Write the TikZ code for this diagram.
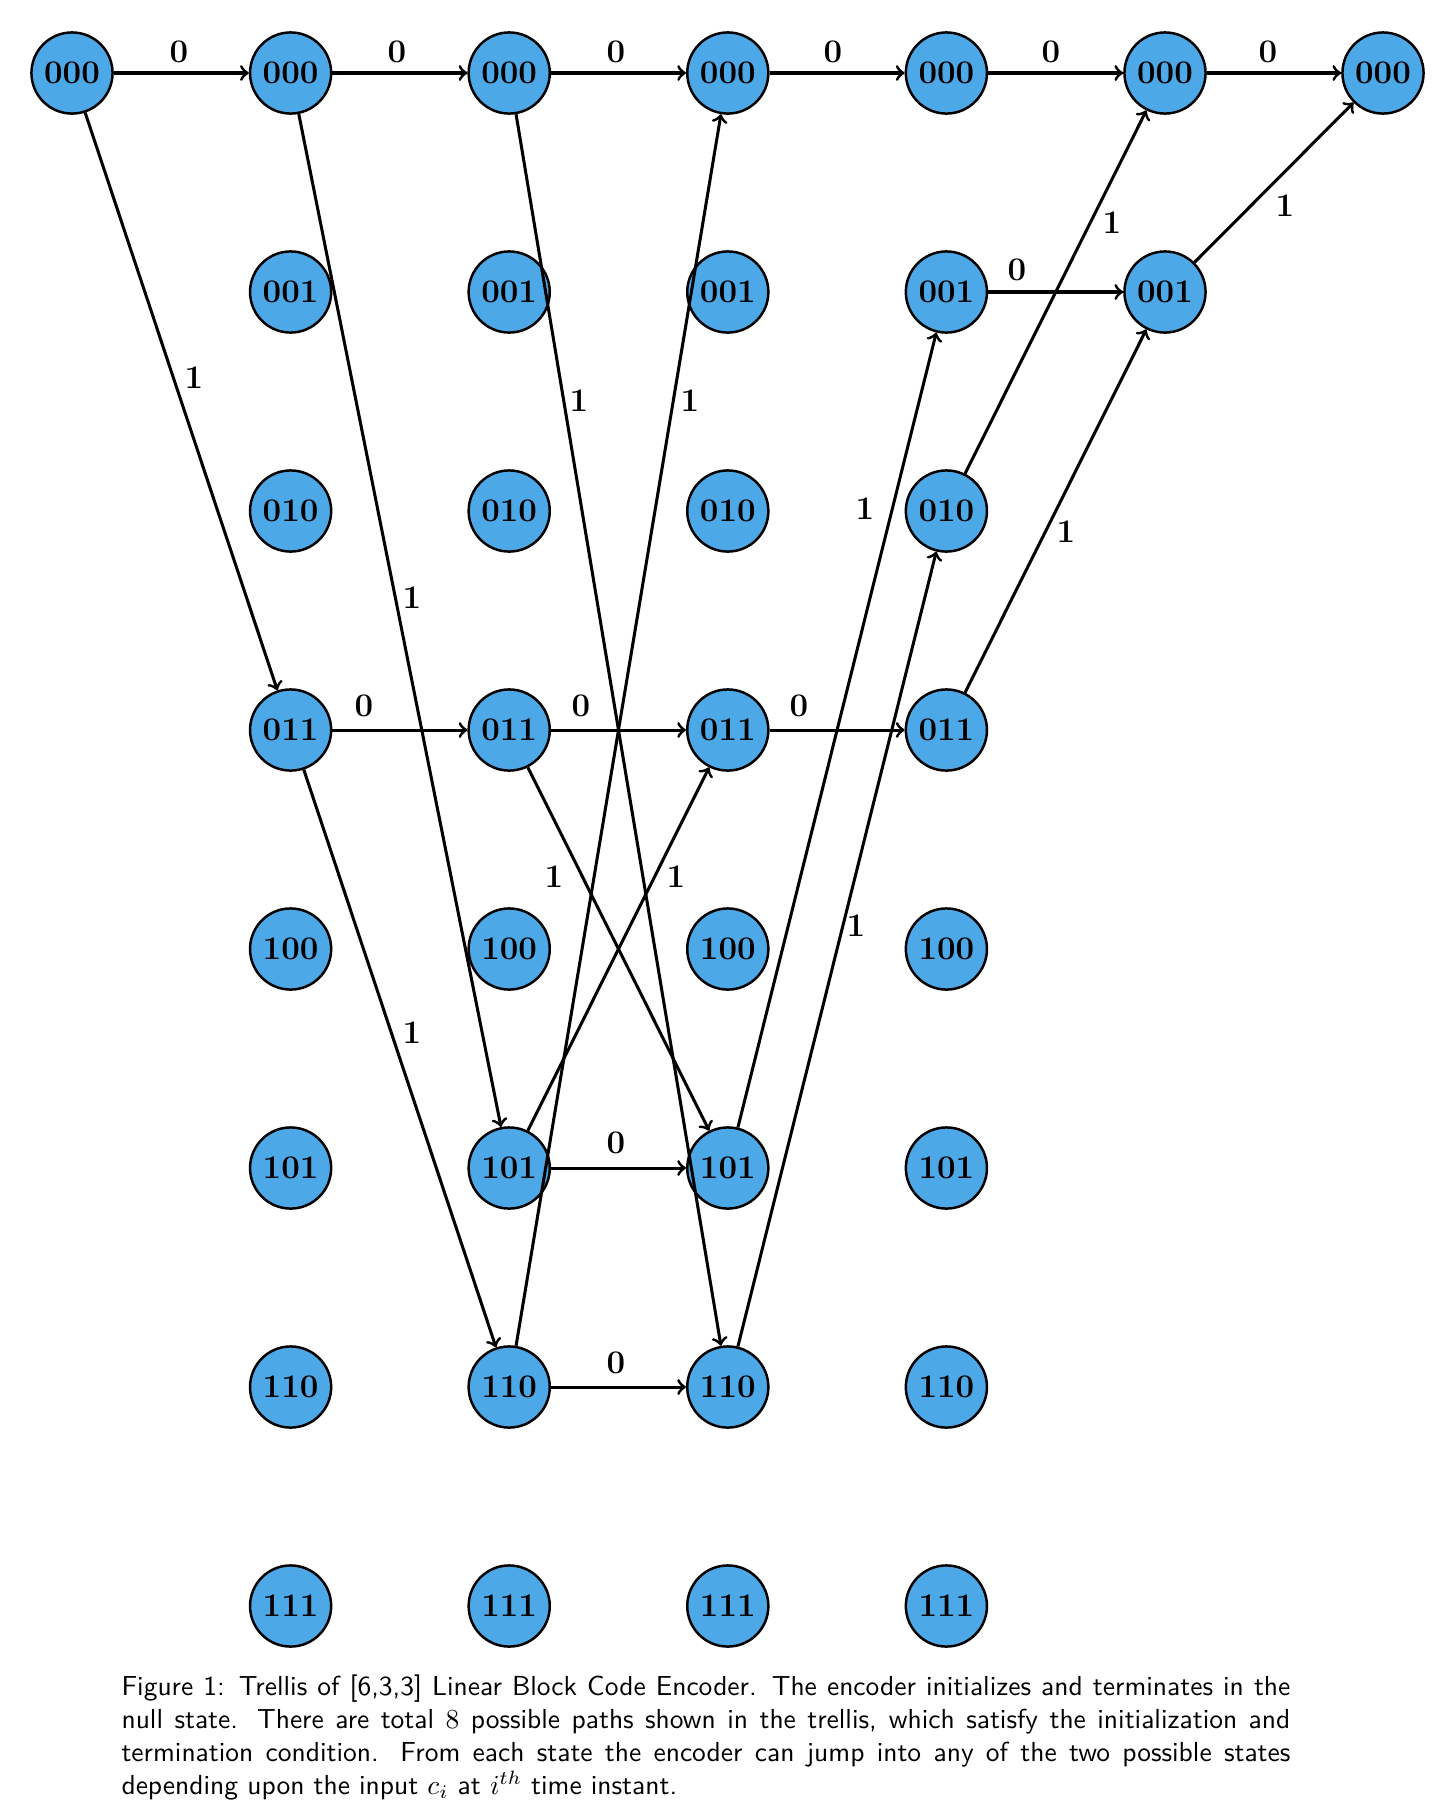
\documentclass[tikz,border=0pt]{standalone}
\usetikzlibrary{arrows}
\definecolor{nodeblue}{RGB}{77,168,232}
\begin{document}
\begin{tikzpicture}[x=0.3636pt,y=-0.3636pt,
  st/.style={circle,draw=black,line width=0.9pt,fill=nodeblue,minimum size=29.5pt,inner sep=0pt,font=\large\bfseries},
  lab/.style={font=\large\bfseries,inner sep=0pt},
  tr/.style={->,line width=1.1pt}]
\useasboundingbox (0,0) rectangle (1444,1818);
\node[st] (a0) at (72,73) {000};
\foreach \c in {1,2,3,4}{
  \foreach \r/\t in {0/000,1/001,2/010,3/011,4/100,5/101,6/110,7/111}{
    \node[st] (n\c\t) at (72+218.6*\c,73+219*\r) {\t};
  }
}
\node[st] (n5000) at (1165,73) {000};
\node[st] (n5001) at (1165,292) {001};
\node[st] (n6000) at (1383,73) {000};
\draw[tr] (a0) -- (n1000);
\draw[tr] (a0) -- (n1011);
\draw[tr] (n1000) -- (n2000);
\draw[tr] (n1000) -- (n2101);
\draw[tr] (n1011) -- (n2011);
\draw[tr] (n1011) -- (n2110);
\draw[tr] (n2000) -- (n3000);
\draw[tr] (n2000) -- (n3110);
\draw[tr] (n2011) -- (n3011);
\draw[tr] (n2011) -- (n3101);
\draw[tr] (n2101) -- (n3101);
\draw[tr] (n2101) -- (n3011);
\draw[tr] (n2110) -- (n3110);
\draw[tr] (n2110) -- (n3000);
\draw[tr] (n3000) -- (n4000);
\draw[tr] (n3011) -- (n4011);
\draw[tr] (n3101) -- (n4001);
\draw[tr] (n3110) -- (n4010);
\draw[tr] (n4000) -- (n5000);
\draw[tr] (n4001) -- (n5001);
\draw[tr] (n4010) -- (n5000);
\draw[tr] (n4011) -- (n5001);
\draw[tr] (n5000) -- (n6000);
\draw[tr] (n5001) -- (n6000);
% labels
\foreach \x [count=\i] in {179,397,616,833,1051,1268}{\node[lab] (t\i) at (\x,52) {0};}
\node[lab] (l1) at (194,378) {1};
\node[lab] (l2) at (412,598) {1};
\node[lab] (l3) at (412,1033) {1};
\node[lab] (l4) at (579,401) {1};
\node[lab] (l5) at (554,877) {1};
\node[lab] (l6) at (676,877) {1};
\node[lab] (l7) at (690,401) {1};
\node[lab] (l8) at (865,509) {1};
\node[lab] (l9) at (856,926) {1};
\node[lab] (l10) at (1112,223) {1};
\node[lab] (l11) at (1066,532) {1};
\node[lab] (l12) at (1285,206) {1};
\node[lab] (z1) at (364,706) {0};
\node[lab] (z2) at (581,706) {0};
\node[lab] (z3) at (799,706) {0};
\node[lab] (z4) at (1017,270) {0};
\node[lab] (z5) at (616,1143) {0};
\node[lab] (z6) at (616,1363) {0};
\node[anchor=north west,inner sep=0pt,text width=425pt,align=justify,font=\sffamily] (cap) at (121,1674)
{Figure 1: Trellis of [6,3,3] Linear Block Code Encoder. The encoder initializes and terminates in the null state. There are total $8$ possible paths shown in the trellis, which satisfy the initialization and termination condition. From each state the encoder can jump into any of the two possible states depending upon the input $c_i$ at $i^{th}$ time instant.};
\end{tikzpicture}
\end{document}
